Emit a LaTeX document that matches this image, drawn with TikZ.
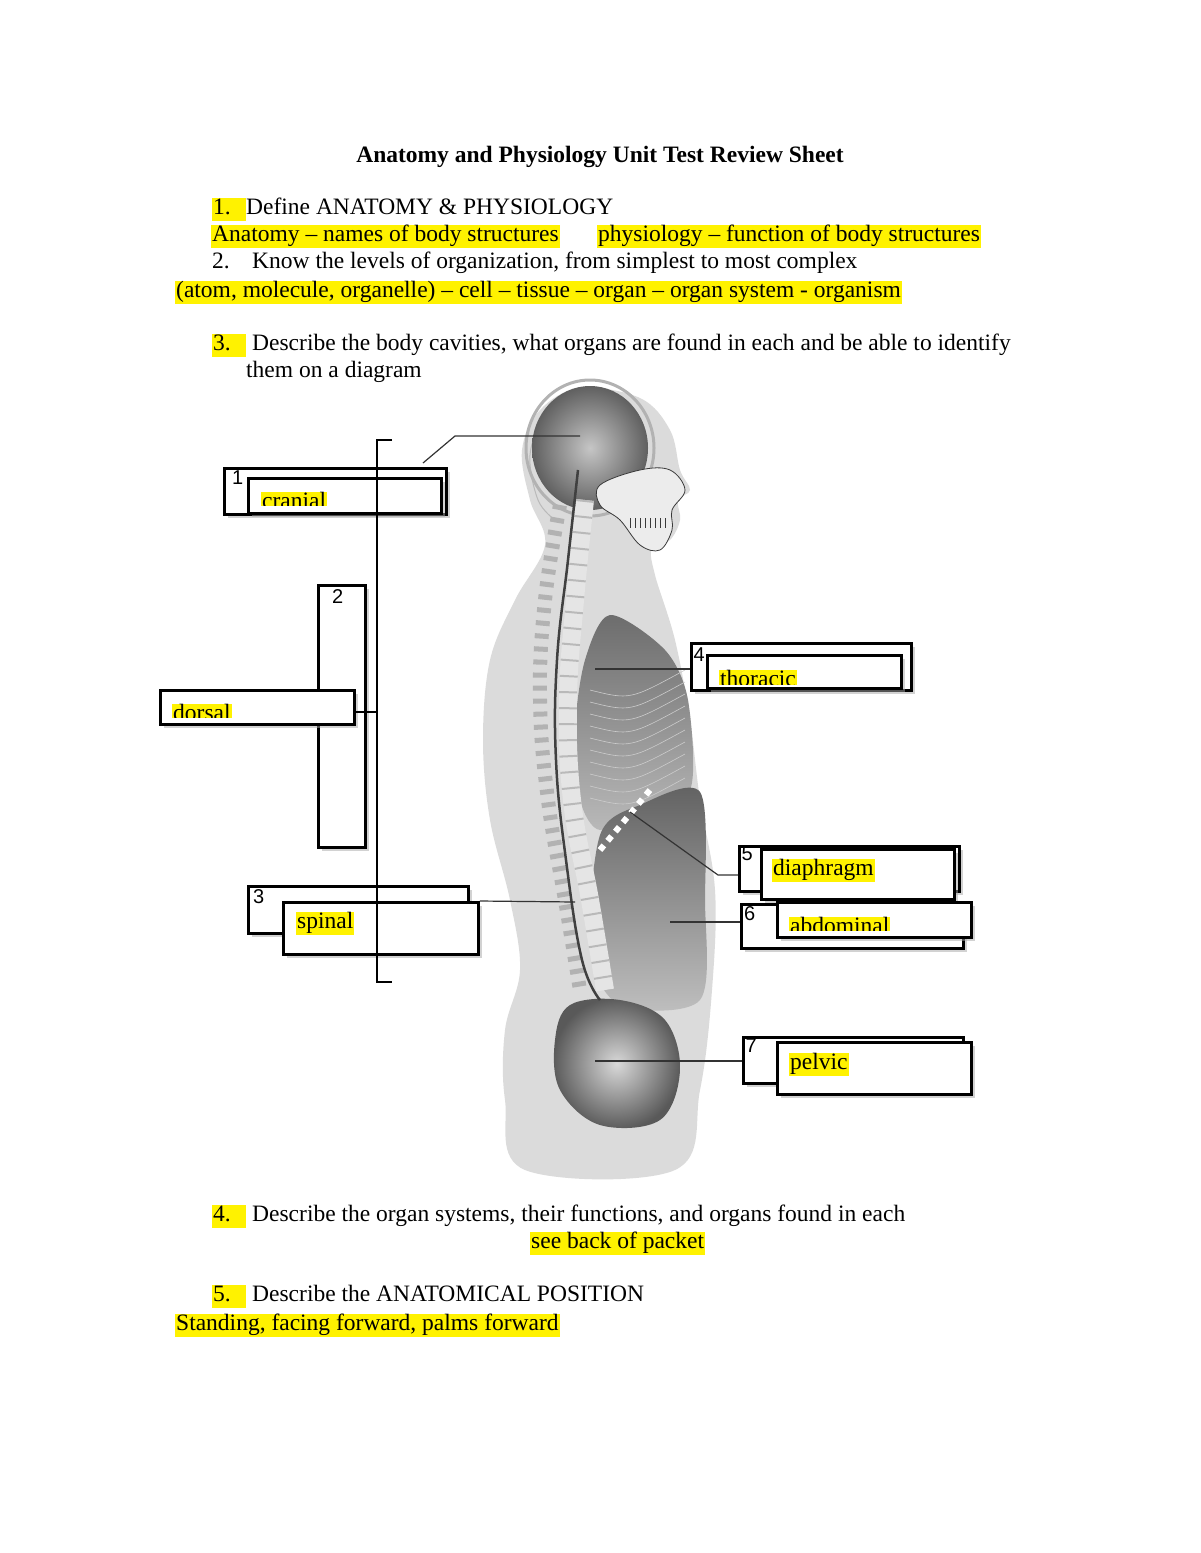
\documentclass[tikz,border=0pt]{standalone}
\usepackage{fontspec}
\setmainfont{Liberation Serif}
\setsansfont{Liberation Sans}
\usetikzlibrary{shadows}
\begin{document}
\begin{tikzpicture}[x=1pt,y=-1pt,
  txt/.style={anchor=west,inner sep=1pt,text height=16pt,text depth=5pt,font=\fontsize{23.5}{27}\selectfont},
  hl/.style={txt,fill=yellow},
  ob/.style={draw,line width=2.8pt,fill=white,drop shadow={shadow xshift=4pt,shadow yshift=-4pt,fill=gray!70},inner sep=0,anchor=north west},
  ib/.style={ob},
  num/.style={anchor=north west,inner sep=0,font=\sffamily\fontsize{20}{22}\selectfont},
  lead/.style={line width=1.2pt,gray!40!black},
]
\useasboundingbox (0,0) rectangle (1200,1553);
% ---------- text ----------
\node[anchor=center,font=\bfseries\fontsize{23.5}{27}\selectfont] (title) at (600,157) {Anatomy and Physiology Unit Test Review Sheet};
\node[hl] (n1) at (212,209) {\makebox[32pt][l]{1.}};
\node[txt] (t1) at (245,209) {Define ANATOMY \& PHYSIOLOGY};
\node[hl] (a1) at (211,236) {Anatomy -- names of body structures};
\node[hl] (a2) at (597,236) {physiology -- function of body structures};
\node[txt] (n2) at (211,263) {2.};
\node[txt] (t2) at (251,263) {Know the levels of organization, from simplest to most complex};
\node[hl] (a3) at (175,292) {(atom, molecule, organelle) -- cell -- tissue -- organ -- organ system - organism};
\node[hl] (n3) at (212,345) {\makebox[32pt][l]{3.}};
\node[txt] (t3) at (251,345) {Describe the body cavities, what organs are found in each and be able to identify};
\node[txt] (t3b) at (245,372) {them on a diagram};
\node[hl] (n4) at (212,1216) {\makebox[32pt][l]{4.}};
\node[txt] (t4) at (251,1216) {Describe the organ systems, their functions, and organs found in each};
\node[hl] (a4) at (530,1243) {see back of packet};
\node[hl] (n5) at (212,1296) {\makebox[32pt][l]{5.}};
\node[txt] (t5) at (251,1296) {Describe the ANATOMICAL POSITION};
\node[hl] (a5) at (175,1325) {Standing, facing forward, palms forward};
% ---------- body ----------
\fill[gray!28] plot[smooth cycle,tension=0.6] coordinates {(580,388)(540,410)(522,450)(530,500)(545,545)(515,600)(490,660)(483,740)(490,820)(510,900)(520,970)(505,1030)(505,1100)(525,1170)(675,1170)(700,1090)(712,990)(715,890)(700,800)(690,720)(675,640)(655,575)(652,548)(670,540)(680,520)(678,500)(690,490)(680,470)(670,430)(640,398)};
\draw[gray!55,line width=1pt] plot[smooth,tension=0.6] coordinates {(575,398)(545,418)(530,455)(538,500)(555,520)};
% cranial
\draw[gray!60,line width=3pt] (590,448) ellipse (64 and 68);
\shade[inner color=gray!45,outer color=gray!75!black] (590,448) ellipse (58 and 62);
% face / skull
\fill[gray!15] plot[smooth cycle,tension=0.6] coordinates {(600,485)(640,470)(670,470)(685,490)(672,510)(672,530)(660,550)(640,545)(620,520)(600,505)};
\draw[gray!45!black,line width=0.8pt] plot[smooth cycle,tension=0.6] coordinates {(600,485)(640,470)(670,470)(685,490)(672,510)(672,530)(660,550)(640,545)(620,520)(600,505)};
\foreach \i in {0,...,7} \draw[gray!45!black,line width=0.6pt] ({630+\i*5},518) -- ({630+\i*5},528);
% thoracic
\shade[top color=gray!85!black,bottom color=gray!55] plot[smooth cycle,tension=0.5] coordinates {(610,615)(585,660)(575,730)(580,800)(600,830)(640,805)(690,790)(688,700)(665,650)};
\foreach \i in {0,...,9} \draw[gray!40,line width=0.6pt] (590,{690+\i*12}) .. controls (630,{700+\i*12}) .. (685,{670+\i*12});
% abdominal
\shade[top color=gray!75!black,bottom color=gray!50] plot[smooth cycle,tension=0.5] coordinates {(600,835)(640,805)(700,792)(705,900)(700,1000)(620,1005)(590,950)};
% diaphragm dashes
\draw[white,line width=6pt,dash pattern=on 6pt off 6pt] (600,850) -- (650,790);
% pelvic
\shade[inner color=gray!30,outer color=gray!70!black] plot[smooth cycle,tension=0.6] coordinates {(570,1005)(620,1000)(665,1020)(680,1070)(660,1120)(600,1125)(560,1090)(555,1040)};
% spine
\draw[gray!60,line width=14pt,dash pattern=on 5pt off 8pt] plot[smooth,tension=0.7] coordinates {(560,505)(545,600)(540,700)(548,800)(565,900)(580,990)};
\draw[gray!20,line width=18pt] plot[smooth,tension=0.7] coordinates {(585,500)(575,600)(568,700)(572,800)(590,900)(605,990)};
\draw[gray!55,line width=18pt,dash pattern=on 2pt off 14pt] plot[smooth,tension=0.7] coordinates {(585,500)(575,600)(568,700)(572,800)(590,900)(605,990)};
\draw[gray!50!black,line width=2.5pt] plot[smooth,tension=0.7] coordinates {(578,470)(568,560)(557,660)(556,760)(566,860)(582,960)(600,1000)};
% ---------- boxes ----------
\node[ob,minimum width=222pt,minimum height=46pt] (o1) at (223,467) {};
\node[ib,minimum width=193pt,minimum height=35pt] (i1) at (247,477) {};
\node[num] (l1) at (232,471) {1};
\node[ob,minimum width=47pt,minimum height=262pt] (o2) at (317,584) {};
\node[num] (l2) at (332,589) {2};
\node[ob,minimum width=194pt,minimum height=34pt,drop shadow={opacity=0}] (d) at (159,689) {};
\node[ob,minimum width=220pt,minimum height=47pt] (o3) at (247,885) {};
\node[ib,minimum width=195pt,minimum height=52pt] (i3) at (282,901) {};
\node[num] (l3) at (253,889) {3};
\node[ob,minimum width=220pt,minimum height=47pt] (o4) at (690,642) {};
\node[ib,minimum width=194pt,minimum height=33pt] (i4) at (706,654) {};
\node[num] (l4) at (693.5,648) {4};
\node[ob,minimum width=220pt,minimum height=45pt] (o5) at (738,845) {};
\node[ib,minimum width=193pt,minimum height=50pt] (i5) at (760,848) {};
\node[num] (l5) at (741.5,847) {5};
\node[ob,minimum width=222pt,minimum height=44pt] (o6) at (740,903) {};
\node[ib,minimum width=194pt,minimum height=35pt] (i6) at (776,901) {};
\node[num] (l6) at (744,906) {6};
\node[ob,minimum width=220pt,minimum height=46pt] (o7) at (742,1036) {};
\node[ib,minimum width=194pt,minimum height=52pt] (i7) at (776,1041) {};
\node[num] (l7) at (745.5,1039) {7};
% labels (clipped)
\begin{scope}\clip (248,478) rectangle (439,505);
\node[hl] (c1) at (261,503) {cranial};\end{scope}
\begin{scope}\clip (160,690) rectangle (352,717);
\node[hl] (c2) at (172,715) {dorsal};\end{scope}
\node[hl] (c3) at (296,923) {spinal};
\begin{scope}\clip (707,655) rectangle (899,684);
\node[hl] (c4) at (719,681) {thoracic};\end{scope}
\node[hl] (c5) at (772,870) {diaphragm};
\begin{scope}\clip (777,902) rectangle (969,930);
\node[hl] (c6) at (789,928) {abdominal};\end{scope}
\node[hl] (c7) at (789,1064) {pelvic};
% ---------- bracket & leaders ----------
\coordinate (bt) at (392,440); \coordinate (bb) at (392,982);
\coordinate (btl) at (377,440); \coordinate (bbl) at (377,982);
\draw[line width=1.5pt] (bt) -- (btl) -- (bbl) -- (bb);
\coordinate (bm) at (377,712);
\draw[line width=1.5pt] (bm) -- (d.east |- bm);
\coordinate (k1) at (423,463); \coordinate (k2) at (455,436); \coordinate (k3) at (580,436);
\draw[lead] (k1) -- (k2) -- (k3);
\coordinate (s3) at (575,902);
\draw[lead] (i3.north east) -- (s3);
\coordinate (s4) at (595,669);
\draw[lead] (s4) -- (o4.west |- s4);
\coordinate (s5a) at (630,812); \coordinate (s5b) at (718,875);
\draw[lead] (s5a) -- (s5b) -- (o5.west |- s5b);
\coordinate (s6) at (670,922);
\draw[lead] (s6) -- (o6.west |- s6);
\coordinate (s7) at (595,1061);
\draw[lead] (s7) -- (o7.west |- s7);
\end{tikzpicture}
\end{document}
